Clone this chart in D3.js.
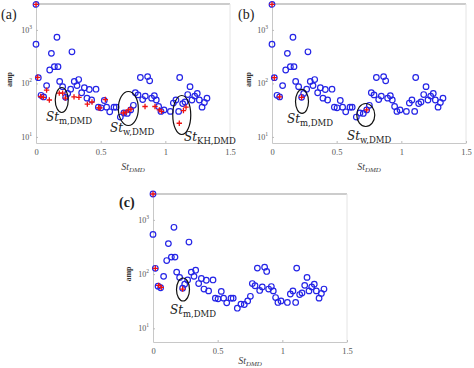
<!DOCTYPE html>
<html>
<head>
<meta charset="utf-8">
<script src="https://cdn.jsdelivr.net/npm/d3@7"></script>
<style>
  html, body { margin: 0; padding: 0; background: #fff; }
  svg { display: block; }
</style>
</head>
<body>
<svg id="chart" width="474" height="368"></svg>
<script>
// blue circles: all DMD modes (same in every panel)
const modeSt = [0, 0, 0.018, 0.039, 0.059, 0.082, 0.106, 0.119, 0.142, 0.162, 0.170, 0.183, 0.206, 0.229, 0.245, 0.268, 0.278, 0.296, 0.317, 0.330, 0.353, 0.374, 0.394, 0.412, 0.430, 0.464, 0.482, 0.503, 0.528, 0.546, 0.570, 0.603, 0.620, 0.652, 0.680, 0.706, 0.732, 0.753, 0.768, 0.789, 0.807, 0.825, 0.845, 0.863, 0.879, 0.894, 0.915, 0.930, 0.948, 0.966, 0.990, 1.039, 1.062, 1.082, 1.103, 1.111, 1.134, 1.152, 1.173, 1.191, 1.206, 1.227, 1.247, 1.263, 1.284, 1.302, 1.322];
const modeAmp = [3000, 540, 128, 60, 56, 91, 178, 365, 206, 730, 206, 109, 87, 55, 65, 78, 390, 109, 91, 118, 67, 83, 53, 77, 49, 78, 36, 35, 48, 36, 29.5, 36, 36, 23.5, 28, 27.5, 32, 39, 67, 61, 129, 50, 58, 134, 112, 53, 59, 49, 37, 30, 32, 30, 43, 49, 30, 129, 42, 45, 62, 87, 49, 58, 65, 49, 36, 44, 53];

// red crosses: selected modes per panel
const selStA = [0, 0.013, 0.036, 0.057, 0.082, 0.103, 0.180, 0.206, 0.227, 0.294, 0.332, 0.397, 0.433, 0.485, 0.495, 0.536, 0.675, 0.696, 0.716, 0.734, 0.843, 0.920, 0.954, 0.970, 1.108, 1.140, 1.160];
const selAmpA = [3000, 130, 57, 55, 75, 49, 66, 66, 53, 56, 55, 41, 45, 35, 35, 50, 28, 29, 32, 33, 37, 37, 32, 30, 18, 31, 36];
const selStB = [0, 0.018, 0.059, 0.229, 0.732];
const selAmpB = [3000, 128, 56, 55, 32];
const selStC = [0, 0.018, 0.044, 0.064, 0.229];
const selAmpC = [3000, 128, 62, 57, 53];

const xTicks = [0, 0.5, 1, 1.5];
const yTicks = [10, 100, 1000];

const panels = [
  { tag: "(a)", bold: false, x0: 36, x1: 230, y0: 4, y1: 143, yLo: 7.7, yHi: 3050, st: selStA, amp: selAmpA,
    tagX: 1, tagY: 19, ampX: 12, xtY: 27,
    rings: [
      { st: 0.199, amp: 49, rx: 6.5, ry: 12.5, sub: "m,DMD", lx: 46, ly: 121 },
      { st: 0.714, amp: 34, rx: 10, ry: 17, sub: "w,DMD", lx: 110, ly: 132 },
      { st: 1.127, amp: 25.7, rx: 9, ry: 19.5, sub: "KH,DMD", lx: 184, ly: 141 }
    ] },
  { tag: "(b)", bold: false, x0: 272, x1: 466, y0: 4, y1: 143, yLo: 7.7, yHi: 3050, st: selStB, amp: selAmpB,
    tagX: 238, tagY: 19, ampX: 251, xtY: 27,
    rings: [
      { st: 0.232, amp: 46, rx: 6.5, ry: 12, sub: "m,DMD", lx: 287, ly: 123 },
      { st: 0.725, amp: 25.7, rx: 9, ry: 11.5, sub: "w,DMD", lx: 347, ly: 140 }
    ] },
  { tag: "(c)", bold: true, x0: 153, x1: 347, y0: 194, y1: 342, yLo: 5.6, yHi: 3000, st: selStC, amp: selAmpC,
    tagX: 119, tagY: 207, ampX: 131, xtY: 22,
    rings: [
      { st: 0.232, amp: 52, rx: 6.5, ry: 11.5, sub: "m,DMD", lx: 170, ly: 314 }
    ] }
];

const svg = d3.select("#chart");
const serif = "'Liberation Serif', 'DejaVu Serif', serif";
const labFont = "'DejaVu Serif', serif";

function stLabel(g, x, y, sub, big, small) {
  const t = g.append("text").attr("x", x).attr("y", y)
    .attr("font-family", labFont).attr("fill", "#222");
  t.append("tspan").attr("font-style", "italic").attr("font-size", big).text("St");
  t.append("tspan").attr("font-size", small).attr("dy", 3).text(sub);
  return t;
}

panels.forEach(p => {
  const x = d3.scaleLinear().domain([0, 1.5]).range([p.x0, p.x1]);
  const y = d3.scaleLog().domain([p.yLo, p.yHi]).range([p.y1, p.y0]);
  const g = svg.append("g");

  // frame
  g.append("line").attr("x1", p.x0).attr("x2", p.x1).attr("y1", p.y0).attr("y2", p.y0)
    .attr("stroke", "#9a9a9a").attr("stroke-width", 1.2);
  g.append("line").attr("x1", p.x1).attr("x2", p.x1).attr("y1", p.y0).attr("y2", p.y1)
    .attr("stroke", "#e4e4e4");

  const xAxis = g.append("g").attr("transform", `translate(0,${p.y1})`)
    .call(d3.axisBottom(x).tickValues(xTicks).tickFormat(d => String(d)).tickSizeInner(-2).tickSizeOuter(0).tickPadding(6));
  const yAxis = g.append("g").attr("transform", `translate(${p.x0},0)`)
    .call(d3.axisLeft(y).tickValues(yTicks).tickFormat("").tickSizeInner(-2).tickSizeOuter(0).tickPadding(4));
  [xAxis, yAxis].forEach(a => {
    a.select(".domain").attr("stroke", "#c8c8c8");
    a.selectAll(".tick line").attr("stroke", "#bbb");
    a.selectAll("text").attr("font-family", serif).attr("font-size", 8.5).attr("fill", "#555");
  });
  yAxis.selectAll(".tick text").each(function(d) {
    const t = d3.select(this).attr("font-size", 8);
    t.text("10");
    t.append("tspan").attr("dy", -4).attr("font-size", 5.5).text(Math.round(Math.log10(d)));
  });

  // axis titles
  g.append("text").attr("transform", `translate(${p.ampX},${(p.y0 + p.y1) / 2 + 6}) rotate(-90)`)
    .attr("text-anchor", "middle").attr("font-family", serif).attr("font-weight", "bold")
    .attr("font-size", 8).attr("fill", "#333").text("amp");
  const xt = g.append("text").attr("x", (p.x0 + p.x1) / 2).attr("y", p.y1 + p.xtY)
    .attr("text-anchor", "middle").attr("font-family", serif).attr("fill", "#444");
  xt.append("tspan").attr("font-style", "italic").attr("font-size", 10).text("St");
  xt.append("tspan").attr("font-style", "italic").attr("font-size", 7).attr("dy", 2).text("DMD");

  g.append("text").attr("x", p.tagX).attr("y", p.tagY).attr("font-family", serif)
    .attr("font-size", 14).attr("font-weight", p.bold ? "bold" : "normal").attr("fill", "#222").text(p.tag);

  // blue circles
  g.append("g").selectAll("circle").data(modeSt.map((s, i) => [s, modeAmp[i]])).join("circle")
    .attr("cx", d => x(d[0])).attr("cy", d => y(d[1])).attr("r", 2.8)
    .attr("fill", "none").attr("stroke", "#2424e6").attr("stroke-width", 1.2);

  // red crosses
  g.append("g").selectAll("path").data(p.st.map((s, i) => [s, p.amp[i]])).join("path")
    .attr("d", d => `M${x(d[0]) - 2.7},${y(d[1])}h5.4M${x(d[0])},${y(d[1]) - 2.7}v5.4`)
    .attr("stroke", "#ee1111").attr("stroke-width", 1.3);

  // annotations
  p.rings.forEach(r => {
    g.append("ellipse").attr("cx", x(r.st)).attr("cy", y(r.amp)).attr("rx", r.rx).attr("ry", r.ry)
      .attr("fill", "none").attr("stroke", "#111").attr("stroke-width", 1.2);
    stLabel(g, r.lx, r.ly, r.sub, 12, 8.5);
  });
});
</script>
</body>
</html>
